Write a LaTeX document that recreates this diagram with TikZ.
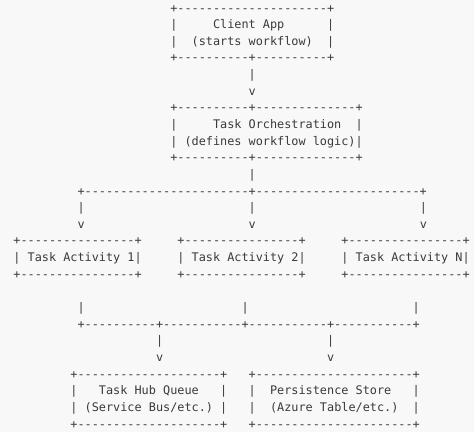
\documentclass[tikz,border=0pt]{standalone}
\usepackage{fontspec}
\setmonofont{DejaVu Sans Mono}[Ligatures=TeXOff]
\definecolor{ink}{HTML}{3A3A3A}
\definecolor{paper}{HTML}{F8F8F8}
\ExplSyntaxOn
\cs_new:Npn \dsh #1 {\prg_replicate:nn{#1}{-}}
\cs_new:Npn \blk #1 {\prg_replicate:nn{#1}{\nobreakspace}}
\ExplSyntaxOff
\tikzset{asc/.style={font=\ttfamily\fontsize{11.84}{16.64}\selectfont\frenchspacing,
  text=ink, anchor=base west, inner sep=0pt, outer sep=0pt}}
\newcommand\arow[4]{\node[asc] (#1) at ({13.43+7.13*#2},{-12-16.64*#3}) {#4};}
\begin{document}
\begin{tikzpicture}[x=1pt,y=1pt]
\fill[paper] (0,0) rectangle (474,-432);
\useasboundingbox (0,0) rectangle (474,-432);
% Client App
\arow{c0}{22}{0}{+\dsh{21}+}
\arow{c1}{22}{1}{|\blk{5}Client App\blk{6}|}
\arow{c2}{22}{2}{|\blk{2}(starts workflow)\blk{2}|}
\arow{c3}{22}{3}{+\dsh{10}+\dsh{10}+}
\arow{a1}{33}{4}{|}
\arow{a2}{33}{5}{v}
% Task Orchestration
\arow{o0}{22}{6}{+\dsh{10}+\dsh{14}+}
\arow{o1}{22}{7}{|\blk{5}Task Orchestration\blk{2}|}
\arow{o2}{22}{8}{| (defines workflow logic)|}
\arow{o3}{22}{9}{+\dsh{10}+\dsh{14}+}
\arow{a3}{33}{10}{|}
\arow{b0}{9}{11}{+\dsh{23}+\dsh{23}+}
\arow{bl1}{9}{12}{|}
\arow{bm1}{33}{12}{|}
\arow{br1}{57}{12}{|}
\arow{bl2}{9}{13}{v}
\arow{bm2}{33}{13}{v}
\arow{br2}{57}{13}{v}
% Task Activities
\arow{t1a}{0}{14}{+\dsh{16}+}
\arow{t2a}{23}{14}{+\dsh{16}+}
\arow{t3a}{46}{14}{+\dsh{16}+}
\arow{t1b}{0}{15}{| Task Activity 1|}
\arow{t2b}{23}{15}{| Task Activity 2|}
\arow{t3b}{46}{15}{| Task Activity N|}
\arow{t1c}{0}{16}{+\dsh{16}+}
\arow{t2c}{23}{16}{+\dsh{16}+}
\arow{t3c}{46}{16}{+\dsh{16}+}
% join
\arow{jl}{9}{18}{|}
\arow{jm}{32}{18}{|}
\arow{jr}{56}{18}{|}
\arow{j0}{9}{19}{+\dsh{10}+\dsh{11}+\dsh{11}+\dsh{11}+}
\arow{ql1}{20}{20}{|}
\arow{pl1}{44}{20}{|}
\arow{ql2}{20}{21}{v}
\arow{pl2}{44}{21}{v}
% Task Hub Queue
\arow{q0}{8}{22}{+\dsh{20}+}
\arow{q1}{8}{23}{|\blk{3}Task Hub Queue\blk{3}|}
\arow{q2}{8}{24}{| (Service Bus/etc.) |}
\arow{q3}{8}{25}{+\dsh{20}+}
% Persistence Store
\arow{p0}{33}{22}{+\dsh{22}+}
\arow{p1}{33}{23}{|\blk{2}Persistence Store\blk{3}|}
\arow{p2}{33}{24}{|\blk{2}(Azure Table/etc.)\blk{2}|}
\arow{p3}{33}{25}{+\dsh{22}+}
\end{tikzpicture}
\end{document}
